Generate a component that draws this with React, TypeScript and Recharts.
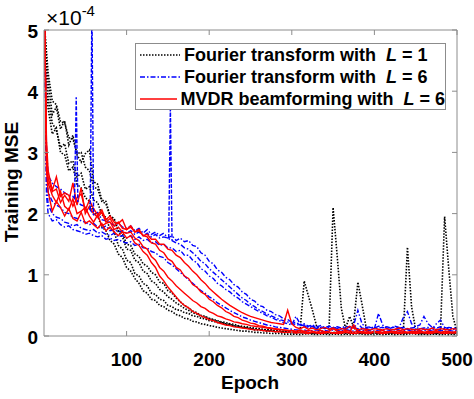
import { LineChart, Line, XAxis, YAxis } from 'recharts'

// epoch grid shared by every training run
const epochs = [
  1, 3,
  5, 10, 15, 20, 25, 30, 35, 40, 45, 50,
  55, 60, 65, 70, 75, 80, 85, 90, 95, 100,
  105, 110, 115, 120, 125, 130, 135, 140, 145, 150,
  155, 160, 165, 170, 175, 180, 185, 190, 195, 200,
  205, 210, 215, 220, 225, 230, 235, 240, 245, 250,
  255, 260, 265, 270, 275, 280, 285, 290, 295, 300,
  305, 310, 315, 320, 325, 330, 335, 340, 345, 350,
  355, 360, 365, 370, 375, 380, 385, 390, 395, 400,
  405, 410, 415, 420, 425, 430, 435, 440, 445, 450,
  455, 460, 465, 470, 475, 480, 485, 490, 495, 500,
]

// Fourier transform, L = 1 (values in units of 1e-4)
const ftL1Run1 = [
  5.0, 4.45,
  4.15, 3.62, 3.74, 3.38, 3.52, 3.12, 3.28, 2.96, 2.84, 2.98,
  3.04, 2.52, 2.48, 2.22, 2.2, 1.96, 1.9, 1.7, 1.62, 1.42,
  1.4, 1.24, 1.2, 1.06, 1.02, 0.9, 0.86, 0.76, 0.72, 0.64,
  0.6, 0.54, 0.5, 0.45, 0.42, 0.38, 0.36, 0.32, 0.31, 0.28,
  0.26, 0.24, 0.22, 0.2, 0.19, 0.17, 0.16, 0.14, 0.13, 0.12,
  0.1, 0.1, 0.09, 0.08, 0.08, 0.07, 0.07, 0.06, 0.06, 0.06,
  0.05, 0.06, 0.05, 0.04, 0.05, 0.04, 0.05, 0.04, 0.07, 2.1,
  1.3, 0.45, 0.12, 0.32, 0.14, 0.06, 0.05, 0.04, 0.05, 0.04,
  0.05, 0.04, 0.03, 0.04, 0.05, 0.04, 0.03, 0.04, 0.04, 0.05,
  0.04, 0.03, 0.04, 0.05, 0.04, 0.08, 1.95, 1.1, 0.32, 0.07,
]
const ftL1Run2 = [
  5.0, 4.2,
  3.9, 3.48, 3.36, 3.08, 3.14, 2.82, 2.86, 2.6, 2.66, 2.4,
  2.44, 2.22, 2.18, 1.98, 1.94, 1.74, 1.7, 1.48, 1.42, 1.24,
  1.2, 1.02, 0.98, 0.86, 0.82, 0.7, 0.68, 0.6, 0.58, 0.5,
  0.48, 0.43, 0.42, 0.38, 0.37, 0.33, 0.32, 0.29, 0.28, 0.25,
  0.24, 0.22, 0.21, 0.19, 0.18, 0.16, 0.16, 0.14, 0.14, 0.12,
  0.12, 0.11, 0.1, 0.1, 0.09, 0.08, 0.08, 0.07, 0.07, 0.06,
  0.06, 0.08, 0.9, 0.66, 0.42, 0.16, 0.08, 0.06, 0.05, 0.06,
  0.05, 0.06, 0.05, 0.05, 0.22, 0.88, 0.52, 0.14, 0.06, 0.05,
  0.04, 0.05, 0.04, 0.05, 0.04, 0.05, 0.06, 1.45, 0.48, 0.1,
  0.05, 0.04, 0.05, 0.04, 0.04, 0.05, 0.04, 0.05, 0.04, 0.05,
]
const ftL1Run3 = [
  5.0, 4.0,
  3.72, 3.3, 3.4, 3.0, 2.96, 2.7, 2.76, 2.48, 2.42, 2.26,
  2.2, 2.02, 1.96, 1.78, 1.72, 1.56, 1.5, 1.34, 1.28, 1.12,
  1.06, 0.94, 0.86, 0.74, 0.7, 0.6, 0.58, 0.5, 0.48, 0.42,
  0.4, 0.35, 0.33, 0.29, 0.28, 0.24, 0.23, 0.2, 0.19, 0.17,
  0.16, 0.14, 0.13, 0.12, 0.11, 0.1, 0.09, 0.08, 0.08, 0.07,
  0.06, 0.06, 0.05, 0.05, 0.04, 0.04, 0.04, 0.03, 0.03, 0.03,
  0.03, 0.02, 0.03, 0.04, 0.03, 0.02, 0.03, 0.03, 0.02, 0.03,
  0.03, 0.02, 0.03, 0.02, 0.03, 0.04, 0.03, 0.02, 0.03, 0.02,
  0.03, 0.02, 0.03, 0.03, 0.02, 0.03, 0.02, 0.03, 0.04, 0.03,
  0.02, 0.03, 0.02, 0.03, 0.03, 0.02, 0.03, 0.02, 0.03, 0.02,
]
const ftL1Run4 = [
  5.0, 4.65,
  4.3, 3.84, 3.78, 3.5, 3.48, 3.24, 3.22, 2.98, 3.0, 2.76,
  2.7, 2.44, 2.4, 2.2, 2.16, 1.96, 1.92, 1.72, 1.68, 1.5,
  1.48, 1.34, 1.3, 1.18, 1.14, 1.04, 1.0, 0.88, 0.86, 0.74,
  0.7, 0.62, 0.56, 0.5, 0.46, 0.41, 0.38, 0.34, 0.32, 0.29,
  0.27, 0.25, 0.23, 0.22, 0.2, 0.19, 0.17, 0.16, 0.15, 0.14,
  0.13, 0.12, 0.11, 0.1, 0.1, 0.09, 0.08, 0.08, 0.07, 0.07,
  0.06, 0.05, 0.06, 0.05, 0.04, 0.05, 0.06, 0.05, 0.04, 0.05,
  0.06, 0.05, 0.04, 0.05, 0.06, 0.05, 0.04, 0.05, 0.04, 0.05,
  0.04, 0.05, 0.06, 0.05, 0.04, 0.05, 0.04, 0.05, 0.06, 0.05,
  0.04, 0.05, 0.04, 0.06, 0.05, 0.04, 0.05, 0.04, 0.05, 0.04,
]

// Fourier transform, L = 6
const ftL6Run1 = [
  5.0, 3.1,
  2.62, 2.5, 2.44, 2.4, 2.34, 2.3, 2.28, 2.2, 2.14, 2.12,
  2.08, 1.98, 2.02, 1.9, 1.88, 1.86, 1.8, 1.84, 1.78, 1.76,
  1.8, 1.72, 1.76, 1.68, 1.74, 1.66, 1.7, 1.64, 1.68, 1.6,
  1.64, 1.56, 1.6, 1.54, 1.56, 1.48, 1.46, 1.36, 1.32, 1.22,
  1.18, 1.08, 1.04, 0.96, 0.92, 0.84, 0.8, 0.72, 0.68, 0.6,
  0.57, 0.5, 0.48, 0.42, 0.4, 0.35, 0.33, 0.28, 0.27, 0.22,
  0.22, 0.18, 0.2, 0.16, 0.18, 0.15, 0.17, 0.14, 0.16, 0.14,
  0.15, 0.13, 0.16, 0.14, 0.18, 0.42, 0.2, 0.14, 0.15, 0.13,
  0.16, 0.14, 0.15, 0.13, 0.16, 0.14, 0.3, 0.4, 0.2, 0.15,
  0.18, 0.32, 0.2, 0.14, 0.13, 0.15, 0.12, 0.14, 0.13, 0.12,
]
const ftL6Run2 = [
  5.0, 2.5,
  2.15, 2.0, 1.94, 1.92, 1.86, 1.84, 1.8, 1.82, 1.76, 1.74,
  1.72, 1.74, 1.68, 1.7, 1.66, 1.64, 1.68, 1.62, 1.64, 1.6,
  1.64, 1.58, 1.62, 1.56, 1.58, 1.52, 1.54, 1.48, 1.5, 1.44,
  1.44, 1.38, 1.4, 1.32, 1.32, 1.24, 1.2, 1.1, 1.06, 0.98,
  0.94, 0.86, 0.82, 0.76, 0.72, 0.66, 0.62, 0.56, 0.52, 0.48,
  0.44, 0.4, 0.37, 0.33, 0.31, 0.27, 0.25, 0.22, 0.2, 0.18,
  0.32, 0.2, 0.16, 0.14, 0.15, 0.12, 0.14, 0.12, 0.13, 0.11,
  0.12, 0.1, 0.12, 0.11, 0.13, 0.12, 0.11, 0.12, 0.1, 0.12,
  0.37, 0.18, 0.12, 0.1, 0.11, 0.1, 0.12, 0.11, 0.1, 0.11,
  0.1, 0.12, 0.11, 0.1, 0.11, 0.1, 0.12, 0.1, 0.11, 0.1,
]
const ftL6Run3 = [
  5.0, 2.8,
  2.35, 2.2, 2.14, 2.1, 2.02, 2.0, 1.94, 1.92, 1.88, 1.86,
  1.82, 1.84, 1.78, 1.76, 1.8, 1.72, 1.74, 1.7, 1.72, 1.68,
  1.72, 1.66, 1.7, 1.64, 1.68, 1.62, 1.66, 1.6, 1.62, 1.6,
  1.56, 1.52, 1.5, 1.44, 1.42, 1.36, 1.3, 1.22, 1.18, 1.1,
  1.04, 0.98, 0.92, 0.86, 0.8, 0.74, 0.68, 0.62, 0.58, 0.52,
  0.48, 0.43, 0.4, 0.36, 0.33, 0.3, 0.27, 0.25, 0.23, 0.2,
  0.19, 0.17, 0.18, 0.15, 0.16, 0.14, 0.15, 0.13, 0.14, 0.13,
  0.14, 0.12, 0.13, 0.15, 0.14, 0.2, 0.13, 0.12, 0.14, 0.12,
  0.13, 0.14, 0.12, 0.13, 0.15, 0.13, 0.14, 0.12, 0.13, 0.14,
  0.12, 0.13, 0.14, 0.12, 0.2, 0.26, 0.14, 0.12, 0.13, 0.12,
]
const ftL6Run4 = [
  5.0, 2.3,
  2.0, 1.88, 1.9, 1.82, 1.78, 1.8, 1.74, 1.72, 1.7, 1.66,
  1.68, 1.64, 1.62, 1.64, 1.58, 1.6, 1.56, 1.58, 1.54, 1.52,
  1.54, 1.48, 1.5, 1.44, 1.44, 1.38, 1.36, 1.3, 1.28, 1.2,
  1.16, 1.1, 1.04, 0.98, 0.92, 0.86, 0.8, 0.74, 0.7, 0.64,
  0.6, 0.54, 0.5, 0.46, 0.42, 0.38, 0.35, 0.31, 0.29, 0.26,
  0.24, 0.22, 0.2, 0.18, 0.17, 0.15, 0.14, 0.13, 0.12, 0.11,
  0.1, 0.09, 0.1, 0.08, 0.09, 0.1, 0.08, 0.09, 0.08, 0.1,
  0.09, 0.08, 0.1, 0.09, 0.08, 0.09, 0.1, 0.08, 0.09, 0.08,
  0.1, 0.09, 0.08, 0.09, 0.1, 0.08, 0.09, 0.1, 0.08, 0.09,
  0.08, 0.09, 0.1, 0.08, 0.09, 0.08, 0.1, 0.09, 0.08, 0.09,
]
// short divergence spikes of the L = 6 runs
const ftL6SpikeA = { epochs: [37, 39, 41], values: [2.25, 3.9, 2.19] }
const ftL6SpikeB = { epochs: [56, 58, 60], values: [2.06, 5.4, 1.98] }
const ftL6SpikeC = { epochs: [151, 153, 155], values: [1.6, 3.75, 1.56] }

// MVDR beamforming, L = 6
const mvdrRun1 = [
  5.0, 3.2,
  2.7, 2.38, 2.6, 2.28, 2.34, 2.3, 2.12, 2.26, 2.32, 2.06,
  2.22, 2.08, 1.98, 2.06, 1.9, 1.96, 1.86, 1.84, 1.9, 1.74,
  1.8, 1.7, 1.74, 1.64, 1.62, 1.52, 1.5, 1.4, 1.36, 1.26,
  1.22, 1.12, 1.08, 0.98, 0.94, 0.84, 0.8, 0.72, 0.68, 0.6,
  0.56, 0.5, 0.46, 0.4, 0.37, 0.32, 0.3, 0.26, 0.24, 0.21,
  0.2, 0.17, 0.16, 0.14, 0.13, 0.12, 0.11, 0.1, 0.09, 0.09,
  0.08, 0.1, 0.07, 0.09, 0.08, 0.06, 0.09, 0.07, 0.08, 0.12,
  0.08, 0.07, 0.09, 0.08, 0.06, 0.08, 0.07, 0.09, 0.06, 0.08,
  0.07, 0.09, 0.06, 0.08, 0.07, 0.09, 0.08, 0.06, 0.08, 0.07,
  0.09, 0.06, 0.08, 0.07, 0.09, 0.06, 0.08, 0.07, 0.06, 0.08,
]
const mvdrRun2 = [
  5.0, 2.9,
  2.5, 2.3, 2.18, 2.36, 2.12, 2.06, 2.24, 2.0, 2.04, 2.1,
  1.96, 1.86, 1.98, 1.8, 1.84, 1.86, 1.74, 1.78, 1.7, 1.68,
  1.7, 1.6, 1.56, 1.46, 1.42, 1.3, 1.24, 1.12, 1.06, 0.96,
  0.9, 0.82, 0.76, 0.7, 0.64, 0.58, 0.54, 0.48, 0.45, 0.4,
  0.37, 0.33, 0.31, 0.28, 0.26, 0.23, 0.22, 0.2, 0.19, 0.17,
  0.16, 0.15, 0.14, 0.13, 0.12, 0.11, 0.1, 0.1, 0.09, 0.08,
  0.07, 0.06, 0.08, 0.05, 0.07, 0.06, 0.05, 0.07, 0.06, 0.05,
  0.06, 0.05, 0.07, 0.06, 0.18, 0.07, 0.05, 0.06, 0.05, 0.07,
  0.06, 0.05, 0.07, 0.06, 0.05, 0.06, 0.07, 0.05, 0.06, 0.05,
  0.07, 0.05, 0.06, 0.05, 0.07, 0.06, 0.05, 0.06, 0.05, 0.06,
]
const mvdrRun3 = [
  5.0, 2.7,
  2.36, 2.04, 2.2, 2.1, 1.96, 2.08, 1.92, 1.88, 2.02, 1.84,
  1.88, 1.82, 1.76, 1.84, 1.72, 1.78, 1.7, 1.64, 1.7, 1.6,
  1.64, 1.52, 1.48, 1.38, 1.32, 1.2, 1.12, 0.98, 0.9, 0.8,
  0.72, 0.64, 0.56, 0.5, 0.46, 0.4, 0.37, 0.33, 0.3, 0.27,
  0.25, 0.22, 0.2, 0.18, 0.17, 0.15, 0.14, 0.13, 0.12, 0.11,
  0.1, 0.1, 0.09, 0.08, 0.08, 0.07, 0.07, 0.06, 0.06, 0.06,
  0.05, 0.06, 0.05, 0.04, 0.06, 0.05, 0.04, 0.05, 0.06, 0.05,
  0.04, 0.05, 0.06, 0.05, 0.04, 0.05, 0.06, 0.04, 0.05, 0.06,
  0.05, 0.04, 0.05, 0.06, 0.05, 0.04, 0.05, 0.06, 0.05, 0.04,
  0.05, 0.06, 0.04, 0.05, 0.06, 0.05, 0.04, 0.05, 0.06, 0.05,
]
const mvdrRun4 = [
  5.0, 3.0,
  2.58, 2.36, 2.4, 2.18, 2.3, 2.2, 2.5, 2.14, 2.42, 2.0,
  2.12, 2.0, 1.94, 2.02, 1.86, 1.92, 1.8, 1.86, 1.76, 1.74,
  1.78, 1.7, 1.72, 1.64, 1.66, 1.58, 1.58, 1.5, 1.5, 1.42,
  1.4, 1.32, 1.28, 1.2, 1.14, 1.06, 1.0, 0.92, 0.86, 0.78,
  0.72, 0.66, 0.6, 0.55, 0.5, 0.46, 0.42, 0.38, 0.35, 0.32,
  0.3, 0.28, 0.26, 0.24, 0.22, 0.21, 0.2, 0.19, 0.42, 0.2,
  0.14, 0.12, 0.15, 0.11, 0.13, 0.1, 0.12, 0.14, 0.11, 0.13,
  0.1, 0.12, 0.11, 0.16, 0.13, 0.1, 0.12, 0.11, 0.1, 0.12,
  0.11, 0.1, 0.12, 0.1, 0.11, 0.13, 0.1, 0.12, 0.11, 0.1,
  0.12, 0.11, 0.1, 0.13, 0.1, 0.12, 0.11, 0.1, 0.12, 0.11,
]

const xTicks = [100, 200, 300, 400, 500]
const yTicks = [0, 1, 2, 3, 4, 5]

const W = 474
const H = 399
const PLOT = { left: 44, right: 457, top: 30, bottom: 336 }
const AXIS = '#8c8c8c'
const FONT = '"Liberation Sans", Arial, Helvetica, sans-serif'

const DOT = '1.5 1.5'
const DASHDOT = '5 2 1.5 2'

const runs = [
  { key: 'f1a', values: ftL1Run1, color: '#000000', dash: DOT },
  { key: 'f1b', values: ftL1Run2, color: '#000000', dash: DOT },
  { key: 'f1c', values: ftL1Run3, color: '#000000', dash: DOT },
  { key: 'f1d', values: ftL1Run4, color: '#000000', dash: DOT },
  { key: 'f6a', values: ftL6Run1, color: '#0000ff', dash: DASHDOT },
  { key: 'f6b', values: ftL6Run2, color: '#0000ff', dash: DASHDOT },
  { key: 'f6c', values: ftL6Run3, color: '#0000ff', dash: DASHDOT },
  { key: 'f6d', values: ftL6Run4, color: '#0000ff', dash: DASHDOT },
  { key: 'mva', values: mvdrRun1, color: '#ff0000', dash: undefined },
  { key: 'mvb', values: mvdrRun2, color: '#ff0000', dash: undefined },
  { key: 'mvc', values: mvdrRun3, color: '#ff0000', dash: undefined },
  { key: 'mvd', values: mvdrRun4, color: '#ff0000', dash: undefined },
]

const rows = epochs.map((epoch, i) => {
  const r: Record<string, number> = { epoch }
  runs.forEach(s => { r[s.key] = s.values[i] })
  return r
})

const spikes = [ftL6SpikeA, ftL6SpikeB, ftL6SpikeC].map(s =>
  s.epochs.map((epoch, i) => ({ epoch, v: s.values[i] }))
)

function XTick(props: any) {
  const { x, payload } = props
  return (
    <g>
      <line x1={x} x2={x} y1={PLOT.bottom} y2={PLOT.bottom - 5} stroke={AXIS} />
      <line x1={x} x2={x} y1={PLOT.top} y2={PLOT.top + 5} stroke={AXIS} />
      <text x={x} y={359} textAnchor="middle" dominantBaseline="central"
        fontFamily={FONT} fontWeight="bold" fontSize={19} fill="#000">{payload.value}</text>
    </g>
  )
}

function YTick(props: any) {
  const { y, payload } = props
  return (
    <g>
      <line x1={PLOT.left} x2={PLOT.left + 5} y1={y} y2={y} stroke={AXIS} />
      <line x1={PLOT.right} x2={PLOT.right - 5} y1={y} y2={y} stroke={AXIS} />
      <text x={38} y={y + 1} textAnchor="end" dominantBaseline="central"
        fontFamily={FONT} fontWeight="bold" fontSize={19} fill="#000">{payload.value}</text>
    </g>
  )
}

function LegendSample({ color, dash }: { color: string; dash?: string }) {
  return (
    <svg width={40} height={6} style={{ display: 'block' }}>
      <line x1={0} x2={40} y1={3} y2={3} stroke={color} strokeWidth={1.5} strokeDasharray={dash} />
    </svg>
  )
}

const legendItems = [
  { label: 'Fourier transform with', l: '1', color: '#000000', dash: DOT },
  { label: 'Fourier transform with', l: '6', color: '#0000ff', dash: DASHDOT },
  { label: 'MVDR beamforming with', l: '6', color: '#ff0000', dash: undefined },
]

export default function App() {
  return (
    <div style={{ position: 'absolute', left: 0, top: 0, width: W, height: H, background: '#fff', overflow: 'hidden' }}>
      <LineChart width={W} height={H} data={rows} margin={{ top: 0, right: 0, bottom: 0, left: 0 }}>
        <XAxis dataKey="epoch" type="number" domain={[0, 500]} ticks={xTicks} allowDataOverflow
          height={63} axisLine={{ stroke: AXIS }} tickLine={false} tick={<XTick />}
          label={{ content: () => (
            <text x={250} y={382} textAnchor="middle" dominantBaseline="central"
              fontFamily={FONT} fontWeight="bold" fontSize={19} fill="#000">Epoch</text>
          ) }} />
        <XAxis xAxisId="top" orientation="top" type="number" domain={[0, 500]} height={30}
          axisLine={{ stroke: AXIS }} tick={false} tickLine={false} />
        <YAxis type="number" domain={[0, 5]} ticks={yTicks} allowDataOverflow width={44}
          axisLine={{ stroke: AXIS }} tickLine={false} tick={<YTick />}
          label={{ content: () => (
            <text x={11} y={182} transform="rotate(-90 11 182)" textAnchor="middle" dominantBaseline="central"
              fontFamily={FONT} fontWeight="bold" fontSize={19} fill="#000">Training MSE</text>
          ) }} />
        <YAxis yAxisId="right" orientation="right" type="number" domain={[0, 5]} width={17}
          axisLine={{ stroke: AXIS }} tick={false} tickLine={false} />
        {runs.map(s => (
          <Line key={s.key} dataKey={s.key} type="linear" stroke={s.color} strokeWidth={s.dash === DOT ? 1.6 : 1.4}
            strokeDasharray={s.dash} dot={false} activeDot={false} isAnimationActive={false} />
        ))}
        {spikes.map((d, i) => (
          <Line key={'spike' + i} data={d} dataKey="v" type="linear" stroke="#0000ff" strokeWidth={1.4}
            strokeDasharray="4 1.5" dot={false} activeDot={false} isAnimationActive={false} />
        ))}
      </LineChart>

      <div style={{ position: 'absolute', left: 46, top: 5, fontFamily: FONT, fontSize: 21, color: '#000', whiteSpace: 'nowrap', lineHeight: '26px' }}>
        ×10<span style={{ fontSize: 15, position: 'relative', top: -9 }}>-4</span>
      </div>

      <div style={{
        position: 'absolute', left: 135, top: 43, width: 311, height: 67,
        border: `1px solid ${AXIS}`, background: '#fff', boxSizing: 'border-box',
        fontFamily: FONT, fontWeight: 'bold', fontSize: 18, color: '#000', paddingTop: 0,
      }}>
        {legendItems.map((it, i) => (
          <div key={i} style={{ display: 'flex', alignItems: 'center', height: 22, whiteSpace: 'pre' }}>
            <div style={{ width: 4 }} />
            <LegendSample color={it.color} dash={it.dash} />
            <div style={{ width: 4 }} />
            <span>{it.label}  <i>L</i> = {it.l}</span>
          </div>
        ))}
      </div>
    </div>
  )
}
